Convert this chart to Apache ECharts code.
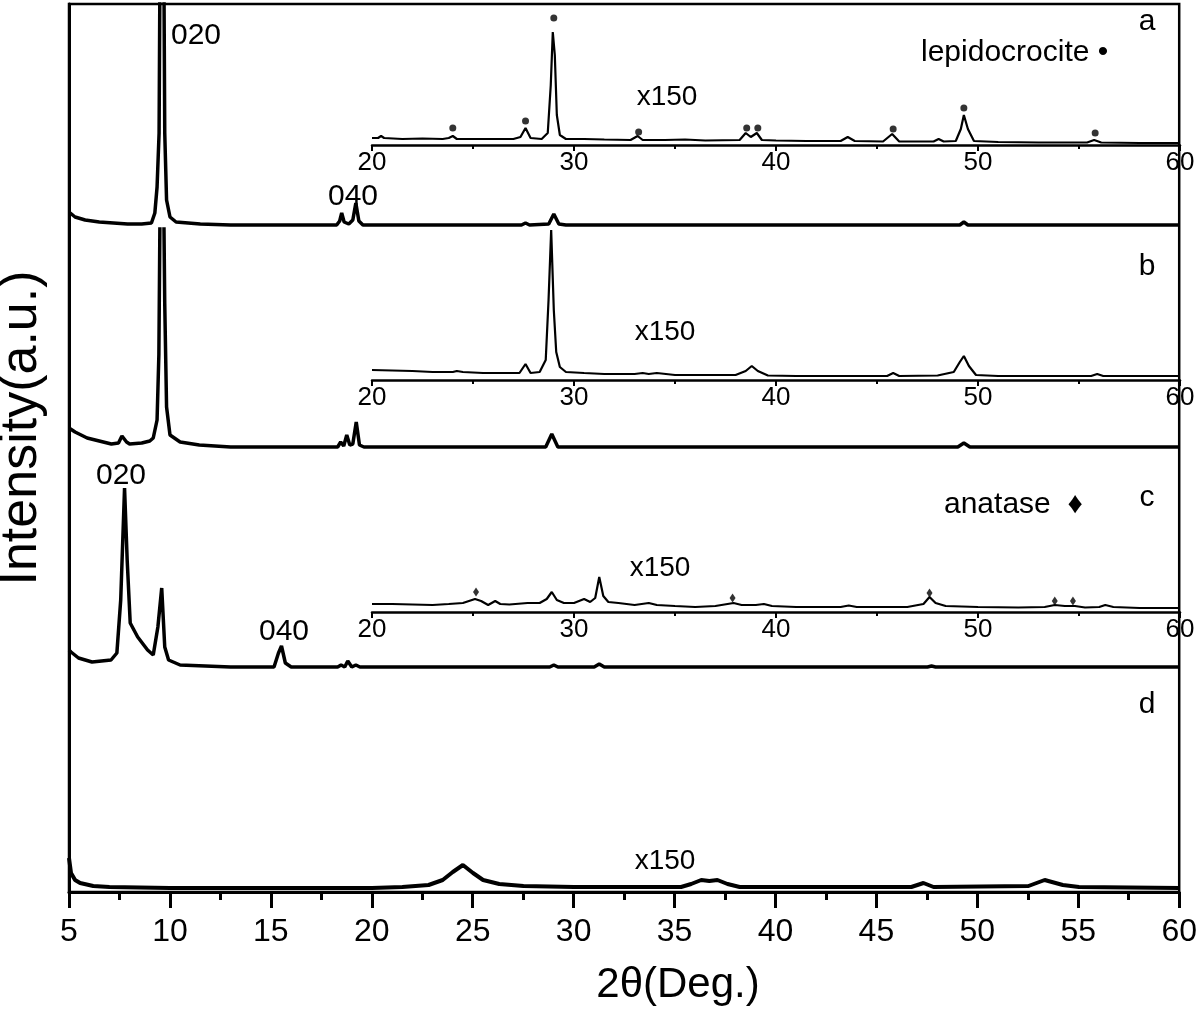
<!DOCTYPE html>
<html><head><meta charset="utf-8">
<script src="https://cdn.jsdelivr.net/npm/echarts@6/dist/echarts.min.js"></script>
<style>html,body{margin:0;padding:0;background:#fff}#c{width:1200px;height:1013px}</style>
</head><body><div id="c"></div>
<script>
// ---------- data (2θ in degrees, intensity in arbitrary units) ----------
const traceA = [[5.0,18],[5.3,13],[5.8,10],[6.5,8],[7.9,6],[8.6,6],[9.08,7],[9.25,17],[9.36,43],[9.46,97],[9.5,250],[9.53,600],[9.67,600],[9.7,250],[9.74,97],[9.83,30],[10.0,13],[10.3,8],[11.5,6],[13,5],[18.25,5],[18.4,9],[18.5,17],[18.62,8],[18.85,6],[19.05,10],[19.2,27],[19.35,9],[19.55,5],[27.4,5],[27.6,7],[27.8,5],[28.75,6],[29.0,16],[29.25,6],[29.6,5],[49.1,5],[49.3,8],[49.5,5],[60,5]];
const traceB = [[5.0,26],[5.3,22],[5.9,16],[6.5,13],[7.1,10],[7.45,11],[7.62,18],[7.7,20],[7.85,12],[8.0,10],[8.6,11],[9.0,13],[9.17,16],[9.36,34],[9.45,100],[9.5,230],[9.53,400],[9.67,400],[9.7,230],[9.74,150],[9.83,47],[10.0,19],[10.5,12],[11.45,9],[13,7],[18.3,7],[18.45,12],[18.6,8],[18.75,19],[18.9,9],[19.05,10],[19.22,32],[19.38,9],[19.6,7],[28.6,7],[28.9,20],[29.2,7],[49.0,7],[49.3,11],[49.6,7],[60,7]];
const traceC = [[5.0,20],[5.1,18],[5.47,12],[6.14,8],[7.08,10],[7.37,17],[7.56,70],[7.75,182],[7.88,110],[8.03,47],[8.4,33],[8.89,20],[9.17,15],[9.4,43],[9.59,82],[9.74,23],[9.93,10],[10.5,5],[13,3],[15.15,3],[15.37,17],[15.52,24],[15.71,7],[16.0,3],[18.3,3],[18.47,5],[18.65,3],[18.8,9],[19.0,3],[19.2,5],[19.4,3],[28.8,3],[29.0,5],[29.2,3],[31.0,3],[31.25,6],[31.5,3],[47.5,3],[47.7,4],[47.9,3],[60,3]];
const traceD = [[5.0,34],[5.1,19],[5.3,12],[5.55,9],[6.2,6],[7,5],[10,4],[20,4],[21.5,5],[22.8,7],[23.5,12],[24.0,20],[24.5,27],[25.0,19],[25.5,12],[26.3,8],[27.5,6],[30,5],[35.3,5],[35.8,8],[36.3,12],[36.7,11],[37.1,12],[37.6,8],[38.2,5],[46.7,5],[47.3,9],[47.8,5],[52.5,6],[53.3,12],[54.2,7],[55,5],[60,4]];

const insetA = [[20.0,7],[20.3,7],[20.45,9],[20.6,7],[21.5,6],[22.5,6.5],[23.5,6],[23.8,7],[24.0,9],[24.2,6],[25,6],[26,6],[27.0,6],[27.35,8],[27.6,17],[27.85,7],[28.4,6],[28.7,12],[28.85,60],[28.95,113],[29.05,90],[29.15,30],[29.3,10],[29.6,6],[30.5,6],[31.5,5.5],[32.8,5],[33.15,9],[33.4,5],[34.5,5],[35.5,5.5],[36.5,4.5],[38.2,5],[38.5,12],[38.75,8],[39.05,12],[39.3,5],[40,4.5],[41.5,4],[43.2,4],[43.55,8],[43.9,4],[45.3,3.5],[45.75,11],[46.1,3.5],[47.8,3.5],[48.05,6],[48.3,3.5],[48.9,4],[49.15,16],[49.3,30],[49.5,16],[49.8,4],[51,3],[53,2.5],[55.4,2.5],[55.75,5],[56.1,2.5],[58,2],[60,2]];
const insetB = [[20,10],[21,9.5],[22,9],[23,8],[24,8],[24.2,9],[24.5,8],[25.5,7],[26.5,7],[27.3,7],[27.6,16],[27.85,7],[28.3,8],[28.6,20],[28.74,80],[28.87,150],[29.0,70],[29.12,28],[29.3,13],[29.6,8],[30.5,7],[31.5,6],[33.0,6],[33.4,7],[33.7,6],[34.1,7],[35,5],[36.5,5],[38.0,5],[38.5,9],[38.8,14],[39.1,9],[39.6,4.5],[41,4],[43,4],[45.5,4],[45.8,7],[46.1,4],[48.0,4.5],[48.8,8],[49.1,18],[49.3,24],[49.55,14],[49.9,5],[51,4],[53,4],[55.6,4],[55.9,6],[56.2,4],[58,4],[60,4]];
const insetC = [[20,8],[21,8],[22,7.5],[23,7],[23.8,8],[24.5,9],[25.1,13],[25.4,11],[25.75,7],[26.1,11],[26.35,8],[26.8,7.5],[27.7,9],[28.3,9],[28.65,13],[28.9,20],[29.15,12],[29.5,9],[30.0,9],[30.5,13],[30.8,10],[31.05,14],[31.25,35],[31.45,16],[31.7,10],[32.2,9],[33.0,7],[33.7,9],[34.1,7],[35,6],[36,5],[37.0,6],[37.6,8],[37.9,9],[38.3,7],[39.0,7],[39.4,8],[39.8,6],[41,5],[43.2,5],[43.6,6.5],[44.0,5],[46.5,5],[47.3,8],[47.6,15],[47.9,9],[48.4,6],[50,5],[52,4.5],[53.3,5],[53.8,7],[54.3,6],[54.8,6],[55.3,4.5],[56.0,5],[56.3,7],[56.7,5],[58,4],[60,4]];

const lepidocrociteMarks = [[24.0,17],[27.6,24],[29.0,127],[33.2,13],[38.55,17],[39.1,17],[45.8,16],[49.3,37],[55.8,12]];
const anataseMarks = [[25.15,20],[37.85,14],[47.6,19],[53.8,11],[54.7,11]];

const mainTicks = {min:5, max:60, interval:5};
const insetTicks = {min:20, max:60, interval:10};

// ---------- layout ----------
const FONT = "'Liberation Sans', Arial, sans-serif";
const L = 69, R = 20;
const insetLeft = 372;
const grids = [
  {left:L, right:R, top:4, height:888, show:true, borderColor:'#000', borderWidth:2.5}, // frame
  {left:L, right:R, top:4, height:226},    // a
  {left:L, right:R, top:229, height:225},  // b
  {left:L, right:R, top:460, height:210},  // c
  {left:L, right:R, top:680, height:212},  // d
  {left:insetLeft, right:R, top:4, height:141},   // inset a
  {left:insetLeft, right:R, top:229, height:151}, // inset b
  {left:insetLeft, right:R, top:460, height:152}  // inset c
];
const yMax = [1, 226, 225, 210, 212, 141, 151, 152];

const xAxes = [];
const yAxes = [];
for (let i = 0; i < grids.length; i++) {
  if (i === 0) {
    xAxes.push({gridIndex:0, type:'value', min:mainTicks.min, max:mainTicks.max, interval:mainTicks.interval,
      axisLine:{lineStyle:{color:'#000', width:3}},
      axisTick:{length:16, lineStyle:{color:'#000', width:3}},
      minorTick:{show:true, splitNumber:2, length:8, lineStyle:{color:'#000', width:3}},
      splitLine:{show:false},
      axisLabel:{fontSize:32, color:'#000', fontFamily:FONT, margin:24}});
    yAxes.push({gridIndex:0, type:'value', min:0, max:1,
      axisLine:{show:true, lineStyle:{color:'#000', width:3}}, axisTick:{show:false},
      axisLabel:{show:false}, splitLine:{show:false}});
  } else if (i >= 5) {
    xAxes.push({gridIndex:i, type:'value', min:insetTicks.min, max:insetTicks.max, interval:insetTicks.interval,
      axisLine:{lineStyle:{color:'#000', width:2.5}},
      axisTick:{length:6, lineStyle:{color:'#000', width:2}},
      minorTick:{show:true, splitNumber:2, length:4, lineStyle:{color:'#000', width:2}},
      splitLine:{show:false},
      axisLabel:{fontSize:26, color:'#000', fontFamily:FONT, margin:5}});
    yAxes.push({gridIndex:i, type:'value', min:0, max:yMax[i], show:false, splitLine:{show:false}});
  } else {
    xAxes.push({gridIndex:i, type:'value', min:mainTicks.min, max:mainTicks.max, show:false, splitLine:{show:false}});
    yAxes.push({gridIndex:i, type:'value', min:0, max:yMax[i], show:false, splitLine:{show:false}});
  }
}

function line(idx, data, w) {
  return {type:'line', xAxisIndex:idx, yAxisIndex:idx, data:data, showSymbol:false, symbol:'none',
    clip:true, lineStyle:{color:'#000', width:w}, silent:true, z:3};
}

const series = [
  line(1, traceA, 3.5), line(2, traceB, 3.5), line(3, traceC, 3.5), line(4, traceD, 4),
  line(5, insetA, 2.2), line(6, insetB, 2.2), line(7, insetC, 2.2),
  {type:'scatter', xAxisIndex:5, yAxisIndex:5, data:lepidocrociteMarks, symbol:'circle', symbolSize:7,
    itemStyle:{color:'#000'}, silent:true},
  {type:'scatter', xAxisIndex:7, yAxisIndex:7, data:anataseMarks, symbol:'diamond', symbolSize:[6,9],
    itemStyle:{color:'#000'}, silent:true}
];

function txt(s, x, y, size, align) {
  return {type:'text', x:x, y:y, z:10, style:{text:s, fontSize:size, fontFamily:FONT, fill:'#000',
    align:align || 'center', verticalAlign:'middle'}};
}
const graphic = [
  txt('020', 196, 36, 30), txt('040', 353, 197, 30),
  txt('a', 1147, 22, 30), txt('lepidocrocite •', 921, 53, 30, 'left'), txt('x150', 667, 97, 28),
  txt('b', 1147, 267, 30), txt('x150', 665, 332, 28),
  txt('020', 121, 476, 30), txt('040', 284, 632, 30),
  txt('anatase  ♦', 944, 505, 30, 'left'), txt('c', 1147, 498, 30), txt('x150', 660, 568, 28),
  txt('d', 1147, 705, 30), txt('x150', 665, 861, 28),
  txt('2θ(Deg.)', 678, 985, 42),
  {type:'text', x:22, y:428, rotation:Math.PI/2, z:10,
    style:{text:'Intensity(a.u.)', fontSize:52, fontFamily:FONT, fill:'#000', align:'center', verticalAlign:'middle'}}
];

const chart = echarts.init(document.getElementById('c'), null, {renderer:'canvas'});
chart.setOption({animation:false, backgroundColor:'#fff', grid:grids, xAxis:xAxes, yAxis:yAxes, series:series, graphic:graphic});
</script>
</body></html>
